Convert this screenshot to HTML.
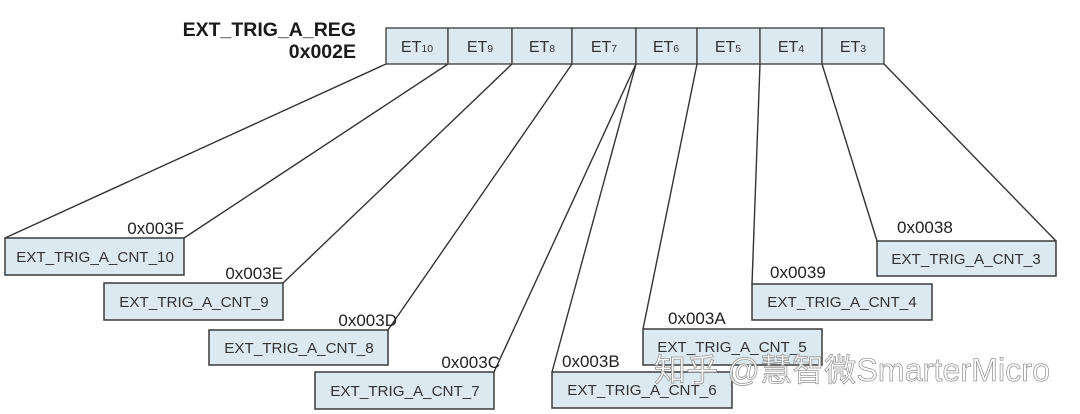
<!DOCTYPE html>
<html><head><meta charset="utf-8"><style>
html,body{margin:0;padding:0;background:#fff;width:1080px;height:414px;overflow:hidden}
svg{display:block}
</style></head><body>
<svg width="1080" height="414" xmlns="http://www.w3.org/2000/svg" font-family="Liberation Sans, Arial, sans-serif">
<rect width="1080" height="414" fill="#fff"/>
<g fill="#1a1a1a" font-weight="bold" font-size="19.5" text-anchor="end">
<text x="356" y="36">EXT_TRIG_A_REG</text>
<text x="356" y="58">0x002E</text>
</g>
<g stroke="#333" stroke-width="1.4" fill="none">
<line x1="386" y1="64" x2="5" y2="238"/>
<line x1="448" y1="64" x2="184" y2="238"/>
<line x1="512" y1="64" x2="283" y2="283"/>
<line x1="572" y1="64" x2="388" y2="330"/>
<line x1="636" y1="64" x2="494" y2="372"/>
<line x1="636" y1="64" x2="552" y2="372"/>
<line x1="697" y1="64" x2="643" y2="329"/>
<line x1="760" y1="64" x2="752" y2="284"/>
<line x1="822" y1="64" x2="877" y2="241"/>
<line x1="884" y1="64" x2="1056" y2="241"/>
</g>
<g fill="#dce9f1" stroke="#3a3a3a" stroke-width="1.3">
<rect x="386" y="28" width="62" height="36"/>
<rect x="448" y="28" width="64" height="36"/>
<rect x="512" y="28" width="60" height="36"/>
<rect x="572" y="28" width="64" height="36"/>
<rect x="636" y="28" width="61" height="36"/>
<rect x="697" y="28" width="63" height="36"/>
<rect x="760" y="28" width="62" height="36"/>
<rect x="822" y="28" width="62" height="36"/>
</g>
<g fill="#333" font-size="16" text-anchor="middle">
<text x="417" y="52">ET<tspan font-size="10.5">10</tspan></text>
<text x="480" y="52">ET<tspan font-size="10.5">9</tspan></text>
<text x="542" y="52">ET<tspan font-size="10.5">8</tspan></text>
<text x="604" y="52">ET<tspan font-size="10.5">7</tspan></text>
<text x="666" y="52">ET<tspan font-size="10.5">6</tspan></text>
<text x="728" y="52">ET<tspan font-size="10.5">5</tspan></text>
<text x="791" y="52">ET<tspan font-size="10.5">4</tspan></text>
<text x="853" y="52">ET<tspan font-size="10.5">3</tspan></text>
</g>
<g fill="#dce9f1" stroke="#3a3a3a" stroke-width="1.5">
<rect x="5" y="238" width="179" height="37"/>
<rect x="104" y="283" width="179" height="37"/>
<rect x="209" y="330" width="179" height="35"/>
<rect x="315" y="372" width="179" height="37"/>
<rect x="552" y="372" width="180" height="36"/>
<rect x="643" y="329" width="179" height="36"/>
<rect x="752" y="284" width="180" height="36"/>
<rect x="877" y="241" width="179" height="35"/>
</g>
<g fill="#333" font-size="15.2" text-anchor="middle">
<text x="95" y="262">EXT_TRIG_A_CNT_10</text>
<text x="194" y="307">EXT_TRIG_A_CNT_9</text>
<text x="299" y="353">EXT_TRIG_A_CNT_8</text>
<text x="405" y="396">EXT_TRIG_A_CNT_7</text>
<text x="642" y="395">EXT_TRIG_A_CNT_6</text>
<text x="732" y="352">EXT_TRIG_A_CNT_5</text>
<text x="842" y="307">EXT_TRIG_A_CNT_4</text>
<text x="966" y="264">EXT_TRIG_A_CNT_3</text>
</g>
<g fill="#222" font-size="17">
<text x="184" y="234" text-anchor="end">0x003F</text>
<text x="283" y="279" text-anchor="end">0x003E</text>
<text x="397" y="326" text-anchor="end">0x003D</text>
<text x="500" y="368" text-anchor="end">0x003C</text>
<text x="562" y="367">0x003B</text>
<text x="668" y="324">0x003A</text>
<text x="770" y="278">0x0039</text>
<text x="897" y="233">0x0038</text>
</g>
<text x="654" y="381" font-size="32" textLength="396" fill="rgba(255,255,255,0.85)" stroke="#999" stroke-width="0.8" font-family="Liberation Sans, Noto Sans CJK SC, sans-serif">知乎 @慧智微SmarterMicro</text>
</svg>
</body></html>
